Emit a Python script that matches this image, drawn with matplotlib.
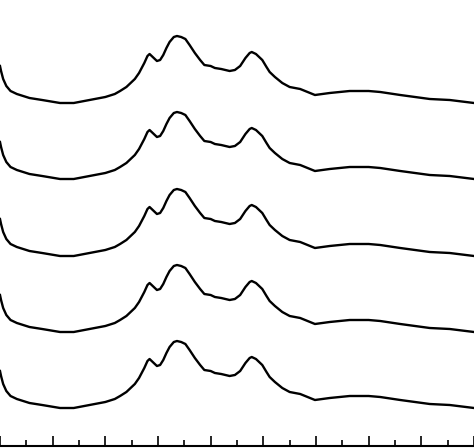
import numpy as np
import matplotlib
matplotlib.use("Agg")
from matplotlib import pyplot as plt
from matplotlib.ticker import MultipleLocator

# 2-theta (deg) and intensity of the top pattern (arb. units)
two_theta = [5.0, 5.1, 5.3, 5.6, 6.0, 6.6, 7.8, 9.0, 10.7, 12.0, 13.5, 15.0,
             15.9, 16.4, 17.0, 17.5, 17.8, 18.2, 18.7, 19.0, 19.2, 19.5, 19.9,
             20.2, 20.5, 20.8, 21.1, 21.5, 21.8, 22.2, 22.6, 23.0, 23.5, 24.0,
             24.4, 25.0, 25.4, 26.0, 26.8, 27.3, 27.8, 28.3, 28.7, 28.9, 29.3,
             29.9, 30.3, 30.6, 31.1, 31.8, 32.5, 33.0, 33.5, 34.2, 34.9, 36.3,
             38.2, 40.0, 41.1, 43.0, 45.8, 47.7, 50.0]
intensity = [380, 375, 367, 360, 355, 352, 348, 346, 343, 343, 346, 349, 352,
             355, 359, 364, 367, 373, 383, 390, 392, 389, 385, 386, 391, 398,
             404, 409, 410, 409, 407, 401, 393, 386, 381, 380, 378, 377, 375,
             376, 380, 388, 393, 394, 392, 386, 379, 374, 369, 363, 359, 358,
             357, 354, 351, 353, 355, 355, 354, 351, 347, 346, 343]
# vertical offsets of the five stacked samples
offsets = [0, -76, -153, -229, -305]

fig = plt.figure(figsize=(4.74, 4.48), dpi=100)
ax = fig.add_axes([0, 2/448, 1, 446/448])
for off in offsets:
    ax.plot(two_theta, np.array(intensity) + off, color="black", lw=1.7)

ax.set_xlim(5, 50)
ax.set_ylim(0, 446)
ax.xaxis.set_major_locator(MultipleLocator(5))
ax.xaxis.set_minor_locator(MultipleLocator(2.5))
ax.tick_params(axis="x", which="major", direction="in", length=7, width=1.2, labelbottom=False)
ax.tick_params(axis="x", which="minor", direction="in", length=4, width=1.2)
ax.set_yticks([])
for s in ["top", "left", "right"]:
    ax.spines[s].set_visible(False)
ax.spines["bottom"].set_linewidth(1.5)
fig.savefig("out.png", dpi=100)
